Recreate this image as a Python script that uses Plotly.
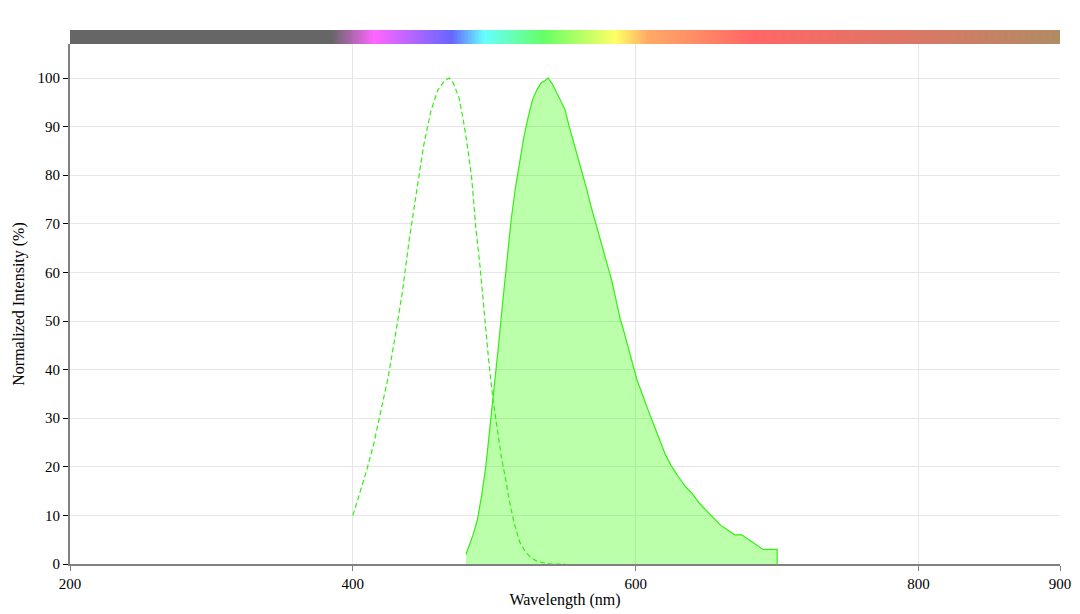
import numpy as np
import plotly.graph_objects as go

# excitation spectrum (dashed)
ex_nm = [400, 405, 410, 415, 420, 425, 430, 435, 440, 445, 450, 455, 460, 465, 468,
         471, 475, 478, 481, 484, 487, 490, 493, 496, 499, 502, 505, 508, 511, 514,
         518, 522, 526, 530, 535, 540, 550]
ex_val = [10, 14.5, 19.5, 25, 31.5, 38.5, 47, 56, 67, 77, 86, 93, 97.5, 99.5, 100,
          99, 96, 91.5, 86, 79.5, 69, 61, 51, 42, 34, 28, 22, 17.5, 12.5, 8.5,
          4.5, 2.5, 1.3, 0.6, 0.2, 0, 0]

# emission spectrum (filled)
em_nm = [480, 482, 485, 488, 491, 494, 497, 500, 503, 506, 509, 512, 515, 518, 521,
         524, 527, 530, 533, 536, 538, 541, 544, 547, 550, 553, 556, 559, 562, 565,
         568, 571, 574, 577, 580, 583, 586, 589, 592, 595, 598, 601, 605, 609, 613,
         617, 621, 625, 630, 635, 640, 645, 650, 655, 660, 665, 670, 675, 680, 685,
         690, 700, 700]
em_val = [2, 3.5, 6, 9, 14, 20, 28, 36, 45, 54, 62, 71, 77.5, 83, 88,
          92, 95.5, 97.5, 99, 99.5, 100, 98.8, 97, 95.5, 93.5, 90, 87, 83.5, 80.5, 77.5,
          74, 71, 68, 65, 61.5, 58.4, 54.5, 50.5, 47.5, 44.5, 41, 37.8, 34.5, 31.5, 28.5,
          25.5, 22.5, 20.3, 18, 16, 14.5, 12.5, 11, 9.5, 8, 7, 6, 6, 5, 4,
          3, 3, 0]

# spectrum bar along the top
bar_nm = [200, 385, 415, 470, 493, 535, 586, 609, 683, 803, 900]
bar_colors = ['#666666', '#666666', '#ff66ff', '#6666ff', '#66ffff', '#66ff66',
              '#ffff66', '#ffaa66', '#ff6666', '#d97866', '#b08c64']

x_ticks = [200, 400, 600, 800, 900]

font = 'Liberation Serif'
green = '#33ee11'

cscale = [[(w - 200) / 700, c] for w, c in zip(bar_nm, bar_colors)]
bar_x = np.arange(200, 901, 1)

fig = go.Figure()

fig.add_trace(go.Heatmap(x=bar_x, y=[0], z=[bar_x], colorscale=cscale,
                         zmin=200, zmax=900, showscale=False, hoverinfo='skip',
                         xaxis='x', yaxis='y2'))

fig.add_trace(go.Scatter(x=em_nm, y=em_val, mode='lines', fill='tozeroy',
                         fillcolor='rgba(51,255,0,0.33)',
                         line=dict(color=green, width=1.2), name='Emission'))

fig.add_trace(go.Scatter(x=ex_nm, y=ex_val, mode='lines',
                         line=dict(color=green, width=1.2, dash='5px,3px'),
                         name='Excitation'))

# page body adds 8px around the figure, margins allow for it
fig.update_layout(
    width=1080, height=614,
    margin=dict(l=62, r=28, t=22, b=58),
    plot_bgcolor='white', paper_bgcolor='white',
    showlegend=False,
    font=dict(family=font, size=15, color='black'),
    xaxis=dict(range=[200, 900], tickvals=x_ticks, showline=True, linecolor='#808080',
               linewidth=2, ticks='outside', ticklen=5, tickcolor='#808080',
               showgrid=True, gridcolor='#e6e6e6', zeroline=False, automargin=False,
               title=dict(text='Wavelength (nm)', font=dict(size=16), standoff=3),
               anchor='y'),
    yaxis=dict(range=[0, 107], dtick=10, domain=[0, 0.9738], showline=True,
               linecolor='#808080', linewidth=2, ticks='outside', ticklen=5,
               tickcolor='black', showgrid=True, gridcolor='#e6e6e6', zeroline=False,
               automargin=False,
               title=dict(text='Normalized Intensity (%)', font=dict(size=16), standoff=9)),
    yaxis2=dict(domain=[0.9738, 1], showticklabels=False, showgrid=False,
                zeroline=False, anchor='x', fixedrange=True),
)

fig.write_html("out.html")
